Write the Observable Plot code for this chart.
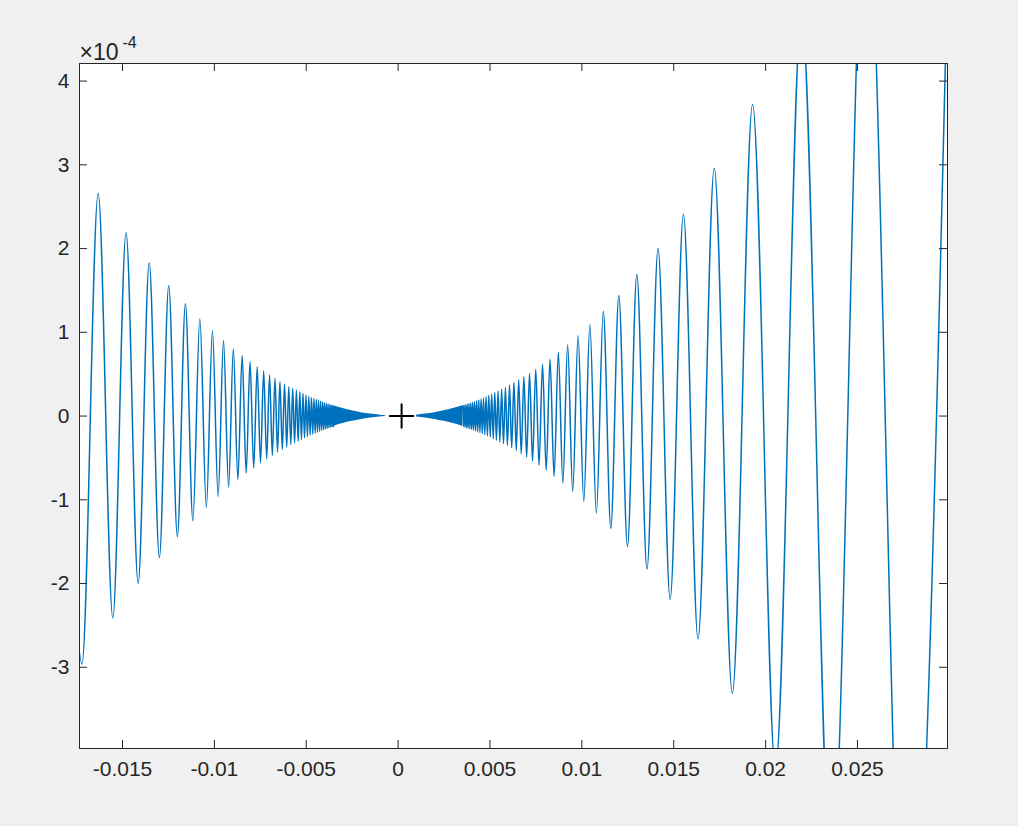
<!DOCTYPE html>
<html>
<head>
<meta charset="utf-8">
<script src="https://cdn.jsdelivr.net/npm/d3@7"></script>
<script src="https://cdn.jsdelivr.net/npm/@observablehq/plot@0.6"></script>
<style>
  html, body { margin: 0; padding: 0; background: #f0f0f0; }
  #chart { width: 1018px; height: 826px; }
</style>
</head>
<body>
<div id="chart"></div>
<script>
// ---- axis ticks and labels ----
const xTicks = [-0.015, -0.01, -0.005, 0, 0.005, 0.01, 0.015, 0.02, 0.025];
const xTickLabels = ["-0.015", "-0.01", "-0.005", "0", "0.005", "0.01", "0.015", "0.02", "0.025"];
const yTicks = [-3, -2, -1, 0, 1, 2, 3, 4];               // in units of 10^-4
const yTickLabels = ["-3", "-2", "-1", "0", "1", "2", "3", "4"];
const yMultiplier = "×10";
const yExponent = "-4";

// ---- visible window ----
const xDomain = [-0.01734, 0.02990];
const yDomain = [-3.97, 4.21];

// ---- extrema (peaks / troughs) of the curve, right half (x > 0) ----
// x position and value (×10^-4); the left half mirrors them with the opposite sign
const peakX = [
  0.030315, 0.027679, 0.025465, 0.023579, 0.021952, 0.020536, 0.019291, 0.018189,
  0.017206, 0.016324, 0.015527, 0.014805, 0.014147, 0.013545, 0.012992, 0.012483,
  0.012012, 0.011575, 0.011169, 0.010790, 0.010436, 0.010105, 0.009794, 0.009502,
  0.009226, 0.008967, 0.008721, 0.008488, 0.008268, 0.008059, 0.007860, 0.007670,
  0.007490, 0.007317, 0.007153, 0.006996, 0.006845, 0.006701, 0.006563, 0.006431,
  0.006303, 0.006181, 0.006063, 0.005950, 0.005841, 0.005735, 0.005634, 0.005536,
  0.005441, 0.005350, 0.005261, 0.005176, 0.005093, 0.005013, 0.004935, 0.004860,
  0.004787, 0.004716, 0.004647, 0.004580, 0.004515, 0.004452, 0.004390, 0.004331,
  0.004273, 0.004216, 0.004161, 0.004107, 0.004055, 0.004004, 0.003954, 0.003906,
  0.003858, 0.003812, 0.003767, 0.003723, 0.003680, 0.003638, 0.003597, 0.003557,
  0.003517
];
const peakY = [
  9.19, -7.66, 6.48, -5.56, 4.82, -4.22, 3.72, -3.31,
  2.96, -2.66, 2.41, -2.19, 2.00, -1.83, 1.69, -1.56,
  1.44, -1.34, 1.25, -1.16, 1.09, -1.02, 0.96, -0.90,
  0.85, -0.80, 0.76, -0.72, 0.68, -0.65, 0.62, -0.59,
  0.56, -0.54, 0.51, -0.49, 0.47, -0.45, 0.43, -0.41,
  0.40, -0.38, 0.37, -0.35, 0.34, -0.33, 0.32, -0.31,
  0.30, -0.29, 0.28, -0.27, 0.26, -0.25, 0.244, -0.236,
  0.229, -0.222, 0.216, -0.210, 0.204, -0.198, 0.193, -0.188,
  0.183, -0.178, 0.173, -0.169, 0.164, -0.160, 0.156, -0.153,
  0.149, -0.145, 0.142, -0.139, 0.135, -0.132, 0.129, -0.126,
  0.124
];
const leftLimit = 0.0182; // left half shows extrema from x = -0.0182 inward

// ---- dense core near zero: envelope half-height (×10^-4) ----
const coreX   = [0.00068, 0.0010, 0.0015, 0.0020, 0.0025, 0.0030, 0.003517];
const coreAmp = [0.005,   0.010,  0.023,  0.040,  0.063,  0.090,  0.124];
const gapLeft = -0.00068, gapRight = 0.0010;

// ---- marker ----
const markerX = [0.00019];
const markerY = [0];

// ---- build tables ----
const rightRows = peakX.map((x, i) => ({x, y: peakY[i], side: "R"})).reverse();
const leftRows = peakX
  .map((x, i) => ({x: -x, y: -peakY[i], side: "L"}))
  .filter(d => d.x >= -leftLimit - 1e-9);
const lineRows = leftRows.concat(rightRows);

const coreRows = [];
coreX.forEach((x, i) => {
  if (-x <= gapLeft + 1e-12) coreRows.push({x: -x, a: coreAmp[i], side: "L"});
});
coreX.forEach((x, i) => {
  if (x >= gapRight - 1e-12) coreRows.push({x, a: coreAmp[i], side: "R"});
});
coreRows.sort((a, b) => a.x - b.x);

const markerRows = markerX.map((x, i) => ({x, y: markerY[i]}));

const W = 1018, H = 826;
const mL = 79, mR = 71, mT = 63, mB = 78;
const innerW = W - mL - mR, innerH = H - mT - mB;
const ink = "#262626";
const blue = "#0072BD";
const tickLen = 8;

const chart = Plot.plot({
  width: W,
  height: H,
  marginLeft: mL, marginRight: mR, marginTop: mT, marginBottom: mB,
  style: {
    fontFamily: "'Liberation Sans', Arial, Helvetica, sans-serif",
    fontSize: "21px",
    color: ink,
    background: "transparent"
  },
  x: {domain: xDomain, label: null},
  y: {domain: yDomain, label: null},
  marks: [
    Plot.frame({fill: "white", stroke: "none"}),
    Plot.areaY(coreRows, {x: "x", y1: d => -d.a, y2: d => d.a, z: "side", fill: blue, curve: "natural", clip: true}),
    Plot.line(lineRows, {x: "x", y: "y", z: "side", stroke: blue, strokeWidth: 1.5, curve: "monotone-x", clip: true}),
    Plot.dot(markerRows, {x: "x", y: "y", symbol: "plus", r: 8.1, stroke: "black", strokeWidth: 2}),
    // inward ticks: bottom, top, left, right
    Plot.tickX(xTicks, {x: d => d, stroke: ink, insetTop: innerH - tickLen}),
    Plot.tickX(xTicks, {x: d => d, stroke: ink, insetBottom: innerH - tickLen}),
    Plot.tickY(yTicks, {y: d => d, stroke: ink, insetRight: innerW - tickLen}),
    Plot.tickY(yTicks, {y: d => d, stroke: ink, insetLeft: innerW - tickLen}),
    Plot.frame({stroke: ink, strokeWidth: 1}),
    Plot.axisX(xTicks, {anchor: "bottom", tickSize: 0, tickPadding: 13, fill: ink,
      tickFormat: d => xTickLabels[xTicks.indexOf(d)]}),
    Plot.axisY(yTicks, {anchor: "left", tickSize: 0, tickPadding: 10, fill: ink,
      tickFormat: d => yTickLabels[yTicks.indexOf(d)]}),
    Plot.text([yMultiplier], {frameAnchor: "top-left", text: d => d, textAnchor: "start",
      lineAnchor: "bottom", dx: 0, dy: -4, fill: ink, fontSize: 23}),
    Plot.text([yExponent], {frameAnchor: "top-left", text: d => d, textAnchor: "start",
      lineAnchor: "bottom", dx: 43, dy: -16, fill: ink, fontSize: 16})
  ]
});

document.getElementById("chart").appendChild(chart);
</script>
</body>
</html>
